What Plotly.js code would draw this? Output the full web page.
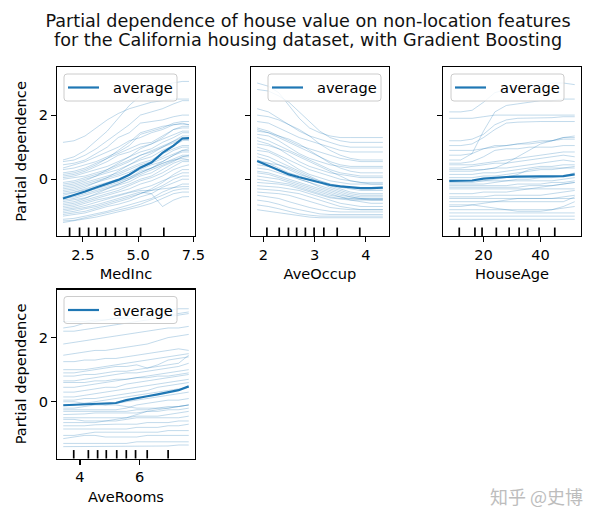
<!DOCTYPE html>
<html>
<head>
<meta charset="utf-8">
<script src="https://cdn.plot.ly/plotly-3.0.1.min.js"></script>
<style>html,body{margin:0;padding:0;background:#fff;}#chart{width:600px;height:522px;}</style>
</head>
<body>
<div id="chart"></div>
<script>
// ---------------- DATA ----------------
const featureNames = ["MedInc", "AveOccup", "HouseAge", "AveRooms"];

const medIncX = [1.6, 2.1, 2.6, 3.1, 3.6, 4.1, 4.6, 5.1, 5.6, 6.1, 6.6, 7.0, 7.3];
const medIncAvg = [-0.6, -0.5, -0.38, -0.26, -0.14, -0.02, 0.14, 0.36, 0.52, 0.82, 1.05, 1.27, 1.28];
const medIncDeciles = [1.9, 2.35, 2.76, 3.14, 3.53, 3.97, 4.48, 5.11, 6.16];
const medIncIce = [
  [1.15,1.2,1.35,1.6,1.85,2.05,2.2,2.3,2.4,2.45,2.5,2.5,2.5],
  [0.6,0.7,0.9,1.2,1.5,1.9,2.3,2.6,2.8,2.95,3.0,3.05,3.05],
  [0.55,0.6,0.75,0.95,1.2,1.45,1.7,2.0,2.1,2.2,2.35,2.45,2.45],
  [0.45,0.5,0.6,0.8,1.0,1.3,1.45,1.75,1.8,1.85,1.95,2.0,2.0],
  [0.35,0.45,0.55,0.7,0.85,1.0,1.2,1.3,1.45,1.55,1.7,1.75,1.7],
  [0.3,0.35,0.45,0.55,0.7,0.85,1.05,1.4,1.5,1.6,1.75,1.8,1.8],
  [0.2,0.25,0.35,0.5,0.65,0.8,0.95,1.1,1.15,1.35,1.55,1.6,1.6],
  [0.1,0.15,0.25,0.4,0.55,0.75,0.85,1.0,1.1,1.25,1.4,1.5,1.5],
  [0.05,0.1,0.2,0.3,0.4,0.55,0.7,0.85,0.95,1.15,1.3,1.45,1.45],
  [0.0,0.05,0.1,0.2,0.3,0.45,0.6,0.75,0.9,1.05,1.2,1.3,1.3],
  [-0.1,-0.05,0.05,0.15,0.25,0.4,0.55,0.75,0.85,1.0,1.15,1.25,1.2],
  [-0.15,-0.1,0.0,0.1,0.2,0.3,0.45,0.6,0.7,0.9,1.05,1.2,1.25],
  [-0.25,-0.2,-0.1,0.0,0.1,0.2,0.35,0.5,0.6,0.8,0.95,1.05,1.05],
  [-0.3,-0.25,-0.15,-0.05,0.05,0.15,0.3,0.45,0.55,0.7,0.9,1.0,1.0],
  [-0.35,-0.3,-0.2,-0.1,-0.02,0.1,0.22,0.4,0.5,0.65,0.8,0.9,0.9],
  [-0.45,-0.4,-0.3,-0.2,-0.1,0.0,0.15,0.3,0.45,0.55,0.75,0.9,0.95],
  [-0.5,-0.42,-0.35,-0.25,-0.15,-0.05,0.05,0.2,0.35,0.5,0.65,0.75,0.75],
  [-0.55,-0.5,-0.4,-0.3,-0.2,-0.1,0.05,0.25,0.35,0.5,0.6,0.65,0.6],
  [-0.6,-0.55,-0.45,-0.35,-0.25,-0.15,0.0,0.15,0.3,0.45,0.6,0.7,0.7],
  [-0.65,-0.6,-0.5,-0.4,-0.3,-0.2,-0.08,0.1,0.2,0.4,0.55,0.7,0.75],
  [-0.7,-0.65,-0.58,-0.48,-0.38,-0.28,-0.15,0.0,0.1,0.3,0.5,0.6,0.6],
  [-0.8,-0.75,-0.65,-0.55,-0.45,-0.35,-0.2,-0.05,0.05,0.2,0.4,0.55,0.55],
  [-0.85,-0.8,-0.7,-0.6,-0.5,-0.4,-0.3,-0.15,-0.05,0.1,0.3,0.4,0.45],
  [-0.9,-0.85,-0.75,-0.65,-0.58,-0.5,-0.4,-0.3,-0.2,-0.05,0.1,0.2,0.2],
  [-0.95,-0.9,-0.82,-0.72,-0.62,-0.52,-0.42,-0.35,-0.35,-0.3,-0.25,-0.23,-0.23],
  [-1.0,-0.95,-0.88,-0.8,-0.7,-0.6,-0.5,-0.4,-0.45,-0.85,-0.65,-0.55,-0.54],
  [-1.05,-1.0,-0.92,-0.85,-0.75,-0.65,-0.55,-0.45,-0.3,-0.1,0.15,0.3,0.3],
  [-1.1,-1.05,-1.0,-0.9,-0.8,-0.7,-0.6,-0.45,-0.35,-0.2,0.0,0.1,0.1],
  [-1.15,-1.1,-1.05,-0.95,-0.85,-0.78,-0.68,-0.55,-0.45,-0.25,-0.1,0.0,0.0],
  [-1.25,-1.22,-1.15,-1.08,-1.0,-0.9,-0.8,-0.7,-0.6,-0.4,-0.25,-0.15,-0.15],
  [-1.3,-1.28,-1.2,-1.12,-1.05,-0.95,-0.88,-0.78,-0.65,-0.5,-0.35,-0.3,-0.3],
  [-1.35,-1.3,-1.25,-1.18,-1.1,-1.02,-0.95,-0.85,-0.75,-0.6,-0.45,-0.4,-0.4],
  [-0.2,-0.15,-0.05,0.1,0.3,0.5,0.7,0.95,1.1,1.3,1.55,1.65,1.65],
  [0.15,0.2,0.3,0.45,0.65,0.9,1.15,1.45,1.55,1.65,1.7,1.72,1.7],
  [-0.4,-0.35,-0.25,-0.1,0.05,0.25,0.45,0.65,0.8,1.0,1.2,1.35,1.35],
  [-0.75,-0.7,-0.6,-0.45,-0.3,-0.15,0.0,0.2,0.35,0.55,0.75,0.85,0.85]
];

const aveOccupX = [1.88, 2.1, 2.3, 2.5, 2.7, 2.9, 3.1, 3.3, 3.5, 3.7, 3.9, 4.1, 4.33];
const aveOccupAvg = [0.57, 0.42, 0.28, 0.15, 0.06, -0.02, -0.1, -0.18, -0.22, -0.25, -0.28, -0.28, -0.26];
const aveOccupDeciles = [2.07, 2.31, 2.49, 2.65, 2.82, 2.99, 3.18, 3.44, 3.88];
const aveOccupIce = [
  [3.0,2.9,2.7,2.3,1.9,1.6,1.45,1.35,1.3,1.3,1.3,1.3,1.3],
  [2.8,2.75,2.6,2.4,2.1,1.8,1.5,1.3,1.2,1.15,1.15,1.15,1.15],
  [2.2,2.1,1.9,1.7,1.5,1.35,1.25,1.15,1.05,1.0,1.0,1.0,1.0],
  [1.8,1.75,1.6,1.45,1.3,1.2,1.1,1.0,0.9,0.85,0.85,0.85,0.85],
  [1.6,1.5,1.35,1.2,1.05,0.95,0.85,0.75,0.65,0.6,0.55,0.55,0.55],
  [1.55,1.45,1.3,1.15,1.0,0.85,0.7,0.55,0.45,0.4,0.4,0.4,0.4],
  [1.5,1.45,1.35,1.25,1.1,0.9,0.7,0.5,0.35,0.25,0.2,0.2,0.2],
  [1.4,1.35,1.2,1.0,0.8,0.65,0.55,0.45,0.4,0.35,0.35,0.35,0.35],
  [1.3,1.2,1.05,0.9,0.75,0.6,0.45,0.3,0.2,0.15,0.1,0.1,0.1],
  [1.2,1.1,0.95,0.75,0.55,0.4,0.3,0.2,0.15,0.1,0.05,0.05,0.05],
  [1.0,0.9,0.75,0.6,0.45,0.3,0.2,0.1,0.0,-0.05,-0.1,-0.1,-0.1],
  [0.9,0.85,0.7,0.5,0.3,0.15,0.05,-0.05,-0.1,-0.15,-0.15,-0.15,-0.15],
  [0.8,0.7,0.55,0.4,0.25,0.1,-0.05,-0.15,-0.25,-0.3,-0.35,-0.35,-0.35],
  [0.7,0.6,0.45,0.3,0.15,0.05,-0.05,-0.15,-0.2,-0.25,-0.3,-0.3,-0.3],
  [0.6,0.5,0.35,0.2,0.1,0.0,-0.1,-0.2,-0.3,-0.4,-0.45,-0.45,-0.45],
  [0.45,0.4,0.3,0.15,0.0,-0.1,-0.2,-0.3,-0.4,-0.5,-0.55,-0.55,-0.55],
  [0.35,0.3,0.2,0.1,0.0,-0.1,-0.25,-0.35,-0.45,-0.55,-0.6,-0.6,-0.6],
  [0.25,0.2,0.1,0.0,-0.1,-0.2,-0.3,-0.4,-0.5,-0.55,-0.6,-0.62,-0.62],
  [0.1,0.05,0.0,-0.1,-0.2,-0.3,-0.4,-0.5,-0.55,-0.6,-0.62,-0.65,-0.65],
  [0.0,-0.05,-0.1,-0.15,-0.25,-0.35,-0.45,-0.55,-0.6,-0.62,-0.62,-0.62,-0.62],
  [-0.1,-0.12,-0.15,-0.2,-0.3,-0.4,-0.5,-0.58,-0.62,-0.65,-0.65,-0.65,-0.65],
  [-0.2,-0.22,-0.25,-0.3,-0.35,-0.45,-0.55,-0.65,-0.75,-0.8,-0.85,-0.85,-0.85],
  [-0.3,-0.32,-0.35,-0.4,-0.45,-0.55,-0.65,-0.75,-0.85,-0.9,-0.95,-0.95,-0.95],
  [-0.4,-0.42,-0.45,-0.5,-0.6,-0.7,-0.8,-0.88,-0.92,-0.95,-0.95,-0.95,-0.95],
  [-0.5,-0.55,-0.6,-0.7,-0.8,-0.88,-0.95,-1.0,-1.02,-1.02,-1.02,-1.02,-1.02],
  [-0.65,-0.7,-0.78,-0.88,-0.95,-1.02,-1.08,-1.1,-1.1,-1.1,-1.1,-1.1,-1.1],
  [-0.8,-0.85,-0.92,-1.0,-1.08,-1.12,-1.15,-1.15,-1.15,-1.15,-1.15,-1.15,-1.15],
  [-0.95,-1.0,-1.05,-1.1,-1.15,-1.18,-1.2,-1.2,-1.2,-1.2,-1.2,-1.2,-1.2],
  [1.1,1.05,0.95,0.85,0.7,0.55,0.4,0.25,0.1,-0.05,-0.1,-0.15,-0.15],
  [0.55,0.5,0.45,0.35,0.2,0.05,-0.1,-0.25,-0.35,-0.45,-0.5,-0.5,-0.5],
  [2.0,1.95,1.85,1.7,1.55,1.35,1.1,0.9,0.75,0.65,0.6,0.6,0.6],
  [0.2,0.15,0.05,-0.05,-0.15,-0.25,-0.35,-0.45,-0.55,-0.65,-0.7,-0.75,-0.75]
];

const houseAgeX = [8, 12, 16, 20, 24, 28, 32, 36, 40, 44, 48, 52];
const houseAgeAvg = [-0.05, -0.05, -0.04, 0.02, 0.05, 0.07, 0.08, 0.09, 0.09, 0.09, 0.1, 0.15];
const houseAgeDeciles = [11.5, 17, 19.5, 24.5, 29, 32.5, 35.5, 39.5, 45];
const houseAgeIce = [
  [2.1,2.1,2.15,2.4,2.7,2.8,2.85,2.9,2.95,3.0,3.0,2.95],
  [1.2,1.2,1.25,1.4,1.7,1.85,1.9,1.9,1.9,1.92,1.95,1.95],
  [1.05,1.05,1.1,1.3,1.55,1.75,1.78,1.8,1.8,1.8,1.8,1.8],
  [0.6,0.6,0.8,1.5,2.1,2.3,2.35,2.4,2.45,2.45,2.5,2.5],
  [0.75,0.75,0.8,0.95,1.05,1.05,1.1,1.15,1.2,1.2,1.25,1.25],
  [0.9,0.9,0.9,0.95,1.0,1.05,1.1,1.1,1.15,1.2,1.3,1.35],
  [0.5,0.5,0.55,0.7,0.9,0.95,0.95,1.0,1.0,1.0,1.05,1.05],
  [0.45,0.45,0.45,0.5,0.55,0.6,0.65,0.7,0.75,0.8,0.85,0.85],
  [0.35,0.35,0.4,0.45,0.5,0.5,0.55,0.6,0.65,0.7,0.75,0.7],
  [0.25,0.25,0.25,0.3,0.35,0.35,0.4,0.45,0.5,0.55,0.6,0.55],
  [0.15,0.15,0.15,0.2,0.2,0.25,0.3,0.35,0.4,0.4,0.45,0.45],
  [0.05,0.05,0.05,0.1,0.1,0.15,0.2,0.25,0.3,0.3,0.35,0.4],
  [-0.1,-0.1,-0.1,-0.05,0.0,0.05,0.15,0.3,0.35,0.35,0.35,0.35],
  [-0.15,-0.15,-0.15,-0.15,-0.1,-0.05,0.0,0.0,0.05,0.05,0.1,0.2],
  [-0.2,-0.2,-0.2,-0.2,-0.2,-0.2,-0.15,-0.15,-0.15,-0.1,-0.1,-0.05],
  [-0.25,-0.25,-0.25,-0.25,-0.25,-0.25,-0.25,-0.2,-0.2,-0.2,-0.15,-0.1],
  [-0.3,-0.3,-0.3,-0.3,-0.3,-0.3,-0.3,-0.3,-0.3,-0.3,-0.3,-0.3],
  [-0.55,-0.55,-0.55,-0.55,-0.5,-0.5,-0.5,-0.5,-0.5,-0.45,-0.4,-0.35],
  [-0.6,-0.6,-0.6,-0.62,-0.62,-0.62,-0.62,-0.62,-0.62,-0.62,-0.62,-0.6],
  [-0.7,-0.7,-0.7,-0.7,-0.7,-0.7,-0.7,-0.72,-0.72,-0.72,-0.7,-0.55],
  [-0.8,-0.8,-0.8,-0.85,-0.9,-0.95,-1.0,-1.0,-1.0,-0.95,-0.85,-0.7],
  [-0.95,-0.95,-0.95,-0.95,-0.95,-0.95,-0.95,-0.95,-0.95,-0.95,-0.9,-0.85],
  [-1.05,-1.05,-1.05,-1.05,-1.05,-1.05,-1.05,-1.05,-1.05,-1.05,-1.05,-1.05],
  [-1.15,-1.15,-1.15,-1.15,-1.15,-1.15,-1.15,-1.15,-1.15,-1.15,-1.15,-1.15],
  [-1.25,-1.25,-1.25,-1.25,-1.25,-1.25,-1.25,-1.25,-1.25,-1.25,-1.25,-1.25],
  [-0.45,-0.45,-0.45,-0.4,-0.4,-0.4,-0.35,-0.3,-0.25,-0.2,-0.15,-0.1],
  [1.9,1.9,1.9,1.95,2.0,2.0,2.0,2.0,2.0,2.0,2.0,2.0],
  [-0.05,-0.05,-0.05,-0.05,-0.05,-0.05,-0.05,-0.05,-0.05,-0.05,0.0,0.05],
  [0.3,0.3,0.3,0.3,0.35,0.5,0.7,0.9,1.1,1.2,1.3,1.3],
  [-0.85,-0.85,-0.8,-0.75,-0.7,-0.65,-0.6,-0.6,-0.6,-0.6,-0.55,-0.5]
];

const aveRoomsX = [3.44, 3.8, 4.15, 4.5, 4.85, 5.2, 5.55, 5.9, 6.25, 6.6, 6.95, 7.3, 7.64];
const aveRoomsAvg = [-0.11, -0.1, -0.08, -0.06, -0.05, -0.04, 0.05, 0.12, 0.17, 0.23, 0.3, 0.36, 0.48];
const aveRoomsDeciles = [3.79, 4.28, 4.59, 4.88, 5.23, 5.55, 5.86, 6.25, 6.95];
const aveRoomsIce = [
  [2.3,2.35,2.45,2.5,2.55,2.6,2.65,2.7,2.75,2.8,2.85,2.9,2.9],
  [2.2,2.2,2.25,2.3,2.35,2.4,2.45,2.5,2.55,2.6,2.65,2.7,2.75],
  [2.5,2.5,2.5,2.55,2.55,2.6,2.6,2.6,2.65,2.65,2.7,2.75,2.8],
  [1.8,1.85,1.9,1.95,2.0,2.05,2.1,2.15,2.2,2.25,2.3,2.3,2.35],
  [1.45,1.5,1.55,1.6,1.6,1.65,1.7,1.75,1.8,1.9,2.0,2.05,2.1],
  [1.25,1.25,1.3,1.3,1.35,1.35,1.4,1.45,1.5,1.55,1.6,1.65,1.6],
  [0.9,0.9,0.95,1.0,1.05,1.1,1.1,1.15,1.05,1.15,1.3,1.35,1.4],
  [0.8,0.8,0.85,0.85,0.9,0.95,0.95,1.0,1.05,1.1,1.15,1.2,1.45],
  [0.65,0.65,0.7,0.75,0.8,0.85,0.9,0.9,0.95,1.0,1.05,1.1,1.2],
  [0.45,0.45,0.5,0.55,0.6,0.65,0.7,0.75,0.8,0.85,0.9,0.95,1.0],
  [0.3,0.3,0.35,0.4,0.45,0.45,0.55,0.6,0.65,0.7,0.75,0.8,0.85],
  [0.15,0.15,0.2,0.25,0.3,0.35,0.4,0.45,0.5,0.55,0.6,0.65,0.7],
  [0.05,0.05,0.1,0.1,0.15,0.2,0.25,0.3,0.35,0.45,0.5,0.55,0.6],
  [-0.2,-0.2,-0.15,-0.1,-0.1,-0.05,0.0,0.05,0.1,0.15,0.2,0.25,0.3],
  [-0.25,-0.25,-0.25,-0.25,-0.25,-0.25,-0.2,-0.1,-0.05,0.0,0.05,0.05,0.1],
  [-0.3,-0.3,-0.3,-0.3,-0.3,-0.3,-0.3,-0.25,-0.25,-0.2,-0.2,-0.15,-0.1],
  [-0.4,-0.4,-0.38,-0.35,-0.35,-0.35,-0.35,-0.35,-0.3,-0.3,-0.25,-0.25,-0.2],
  [-0.5,-0.5,-0.5,-0.5,-0.5,-0.5,-0.5,-0.45,-0.45,-0.45,-0.4,-0.35,-0.3],
  [-0.65,-0.65,-0.65,-0.65,-0.6,-0.6,-0.55,-0.5,-0.5,-0.5,-0.5,-0.5,-0.45],
  [-0.75,-0.75,-0.75,-0.72,-0.7,-0.7,-0.7,-0.7,-0.65,-0.65,-0.65,-0.6,-0.6],
  [-0.85,-0.85,-0.85,-0.85,-0.85,-0.85,-0.85,-0.8,-0.8,-0.8,-0.75,-0.75,-0.7],
  [-1.05,-1.05,-1.0,-0.95,-0.95,-0.95,-0.95,-0.95,-0.95,-0.95,-0.9,-0.9,-0.9],
  [-1.15,-1.1,-1.05,-1.05,-1.1,-1.1,-1.1,-1.1,-1.05,-1.05,-1.05,-1.05,-1.05],
  [-1.3,-1.3,-1.3,-1.3,-1.3,-1.3,-1.3,-1.25,-1.25,-1.25,-1.25,-1.25,-1.25],
  [-1.4,-1.4,-1.4,-1.4,-1.4,-1.4,-1.4,-1.4,-1.4,-1.4,-1.38,-1.35,-1.35],
  [0.0,0.0,-0.05,-0.05,-0.1,-0.1,-0.15,-0.2,-0.2,-0.2,-0.15,-0.15,-0.1],
  [1.0,1.0,1.0,1.05,1.1,1.15,1.2,1.25,1.3,1.35,1.4,1.45,1.5],
  [-0.55,-0.55,-0.6,-0.6,-0.6,-0.55,-0.5,-0.4,-0.3,-0.25,-0.2,-0.15,-0.1],
  [0.6,0.6,0.6,0.65,0.65,0.7,0.7,0.75,0.75,0.8,0.8,0.85,0.9],
  [-0.1,-0.1,-0.05,0.0,0.05,0.1,0.15,0.2,0.25,0.3,0.35,0.4,0.45]
];

const xRanges = [[1.33, 7.57], [1.76, 4.45], [5.8, 54.2], [3.23, 7.85]];
const xDticks = [2.5, 1, 20, 2];
const xTickFormats = [".1f", "", "", ""];
const yRange = [-1.77, 3.5];
const titleLines = ["Partial dependence of house value on non-location features",
                    "for the California housing dataset, with Gradient Boosting"];
const yLabel = "Partial dependence";
const legendLabel = "average";
const watermark = "知乎 @史博";

// ---------------- BUILD ----------------
const W = 600, H = 522;
const FONT = "DejaVu Sans, Liberation Sans, sans-serif";
const FS = 14.6;
const blue = "#1f77b4";
const iceColor = "rgba(31,119,180,0.3)";

const panels = [
  {x: medIncX, ice: medIncIce, avg: medIncAvg, dec: medIncDeciles},
  {x: aveOccupX, ice: aveOccupIce, avg: aveOccupAvg, dec: aveOccupDeciles},
  {x: houseAgeX, ice: houseAgeIce, avg: houseAgeAvg, dec: houseAgeDeciles},
  {x: aveRoomsX, ice: aveRoomsIce, avg: aveRoomsAvg, dec: aveRoomsDeciles}
];

// pixel boxes [left, right, top, bottom]
const boxes = [[57, 195, 67, 236], [251, 389, 67, 236], [443, 581, 67, 236], [57, 195, 289.5, 458.5]];
// legend box left/top in px
const legendBox = [[64, 74], [268, 74], [451, 74], [64, 296.5]];
const LW = 113, LH = 27;

const px = v => v / W;
const py = v => 1 - v / H;
function roundedRect(l, t, w, h, r) {
  const R = l + w, B = t + h;
  return "M" + px(l + r) + "," + py(t) +
    " L" + px(R - r) + "," + py(t) + " Q" + px(R) + "," + py(t) + " " + px(R) + "," + py(t + r) +
    " L" + px(R) + "," + py(B - r) + " Q" + px(R) + "," + py(B) + " " + px(R - r) + "," + py(B) +
    " L" + px(l + r) + "," + py(B) + " Q" + px(l) + "," + py(B) + " " + px(l) + "," + py(B - r) +
    " L" + px(l) + "," + py(t + r) + " Q" + px(l) + "," + py(t) + " " + px(l + r) + "," + py(t) + " Z";
}

const traces = [];
const shapes = [];
const annotations = [
  {
    text: titleLines[1], xref: "paper", yref: "paper",
    x: px(308), y: py(40.5), xanchor: "center", yanchor: "middle", showarrow: false,
    font: {family: FONT, size: 17.6, color: "#111"}
  },
  {
    text: watermark, xref: "paper", yref: "paper",
    x: px(536), y: py(496), xanchor: "center", yanchor: "middle", showarrow: false,
    font: {family: "Noto Sans CJK SC, sans-serif", size: 18, color: "#bdbdbd"}
  }
];
const layout = {
  width: W, height: H,
  margin: {l: 0, r: 0, t: 0, b: 0},
  paper_bgcolor: "#fff", plot_bgcolor: "#fff",
  font: {family: FONT, size: FS, color: "#000"},
  showlegend: false,
  title: {
    text: titleLines[0],
    font: {family: FONT, size: 17.6, color: "#111"},
    x: px(308), xref: "paper", xanchor: "center",
    y: py(21), yref: "container", yanchor: "middle"
  },
  annotations: annotations,
  shapes: shapes
};

panels.forEach((p, i) => {
  const n = i + 1;
  const xa = n === 1 ? "x" : "x" + n;
  const ya = n === 1 ? "y" : "y" + n;
  p.ice.forEach(row => {
    traces.push({
      type: "scatter", mode: "lines", x: p.x, y: row,
      xaxis: xa, yaxis: ya, showlegend: false, hoverinfo: "skip",
      line: {color: iceColor, width: 0.9}
    });
  });
  traces.push({
    type: "scatter", mode: "lines", x: p.x, y: p.avg, name: legendLabel,
    xaxis: xa, yaxis: ya, showlegend: false,
    line: {color: blue, width: 2.2}
  });
  p.dec.forEach(d => {
    shapes.push({
      type: "line", xref: xa, yref: ya + " domain",
      x0: d, x1: d, y0: 0, y1: 0.05,
      line: {color: "#000", width: 1.7}
    });
  });

  const b = boxes[i];
  const axKey = n === 1 ? "xaxis" : "xaxis" + n;
  const ayKey = n === 1 ? "yaxis" : "yaxis" + n;
  layout[axKey] = {
    domain: [b[0] / W, b[1] / W], anchor: ya,
    range: xRanges[i], dtick: xDticks[i], tick0: 0, tickformat: xTickFormats[i],
    showgrid: false, zeroline: false, showline: true, mirror: true,
    linecolor: "#000", linewidth: 1.1,
    ticks: "outside", ticklen: 5, tickwidth: 1.1, tickcolor: "#000",
    tickfont: {family: FONT, size: FS, color: "#000"},
    title: {text: featureNames[i], font: {family: FONT, size: FS, color: "#000"}, standoff: 7}
  };
  layout[ayKey] = {
    domain: [1 - b[3] / H, 1 - b[2] / H], anchor: xa,
    range: yRange, dtick: 2, tick0: 0,
    showgrid: false, zeroline: false, showline: true, mirror: true,
    linecolor: "#000", linewidth: 1.1,
    ticks: "outside", ticklen: 5, tickwidth: 1.1, tickcolor: "#000",
    showticklabels: (n === 1 || n === 4),
    tickfont: {family: FONT, size: FS, color: "#000"},
    title: (n === 1 || n === 4) ? {text: yLabel, font: {family: FONT, size: FS, color: "#000"}, standoff: 8} : {text: ""}
  };

  // legend (drawn as a framed key: box, line sample, label)
  const lb = legendBox[i];
  const cy = lb[1] + LH / 2;
  shapes.push({
    type: "path", xref: "paper", yref: "paper", layer: "above",
    path: roundedRect(lb[0], lb[1], LW, LH, 3),
    fillcolor: "rgba(255,255,255,0.8)", line: {color: "#cccccc", width: 1}
  });
  shapes.push({
    type: "line", xref: "paper", yref: "paper", layer: "above",
    x0: px(lb[0] + 4), x1: px(lb[0] + 35), y0: py(cy), y1: py(cy),
    line: {color: blue, width: 2.2}
  });
  annotations.push({
    text: legendLabel, xref: "paper", yref: "paper",
    x: px(lb[0] + 47), y: py(cy), xanchor: "left", yanchor: "middle", showarrow: false,
    font: {family: FONT, size: FS, color: "#000"}
  });
});

Plotly.newPlot("chart", traces, layout, {staticPlot: true, displayModeBar: false});
</script>
</body>
</html>
